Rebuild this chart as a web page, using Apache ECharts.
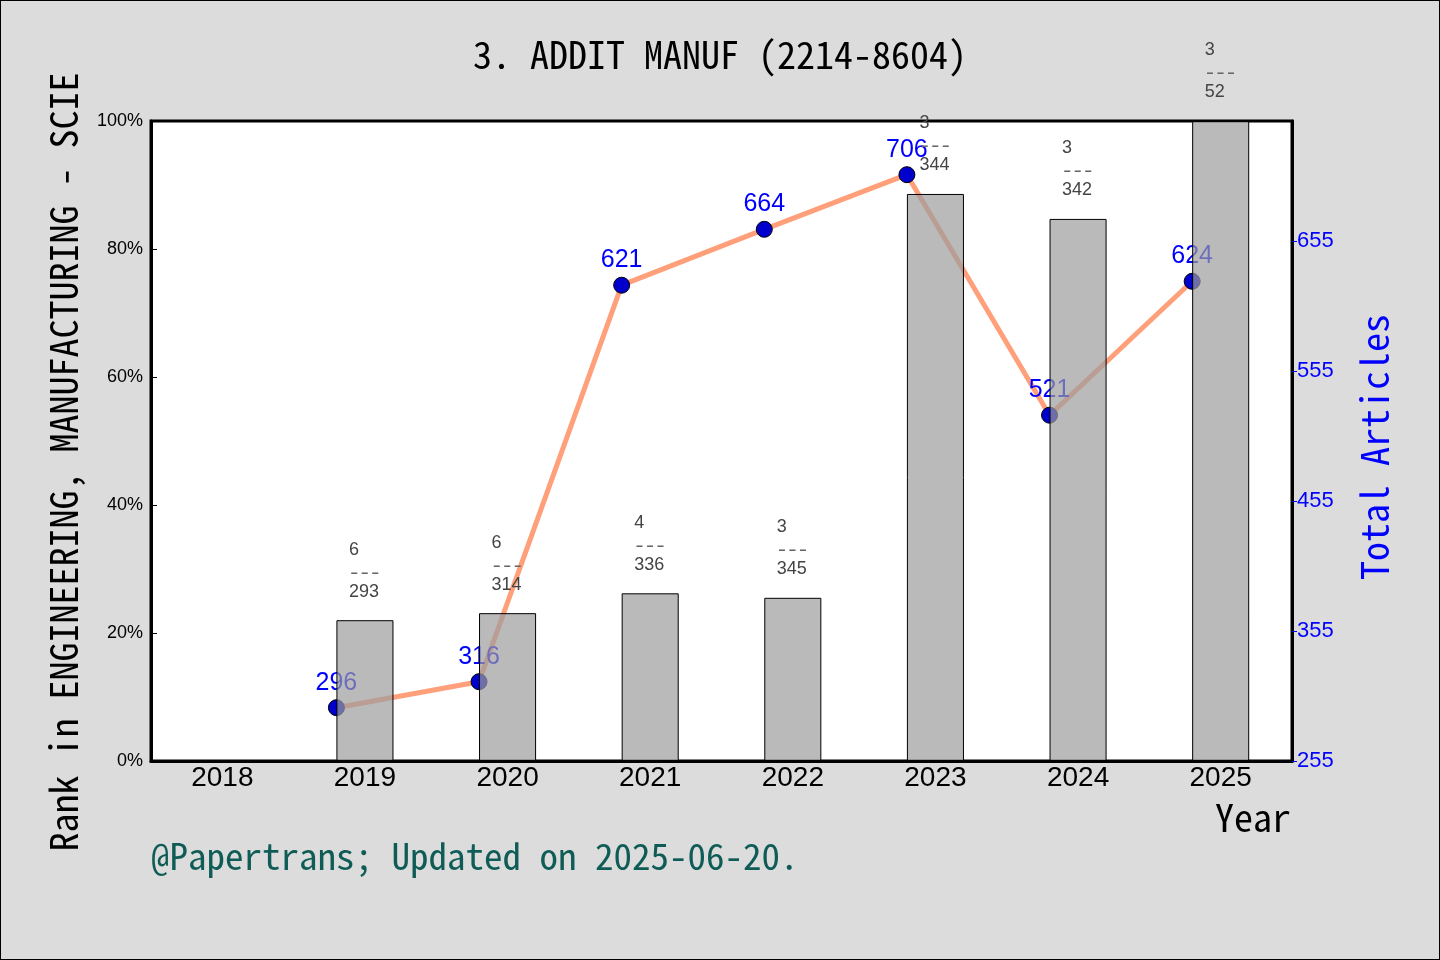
<!DOCTYPE html>
<html>
<head>
<meta charset="utf-8">
<title>ADDIT MANUF</title>
<script src="https://cdn.jsdelivr.net/npm/echarts@6/dist/echarts.min.js"></script>
<style>
html, body { margin: 0; padding: 0; background: #dcdcdc; }
#chart { width: 1440px; height: 960px; box-sizing: border-box; border: 1px solid #000; }
</style>
</head>
<body>
<div id="chart"></div>
<script>
// data
var years = ['2018', '2019', '2020', '2021', '2022', '2023', '2024', '2025'];
var rankPercent = ['-', 22.0, 23.1, 26.2, 25.5, 88.6, 84.7, 100];
var ranks = [null, 6, 6, 4, 3, 3, 3, 3];
var totals = [null, 293, 314, 336, 345, 344, 342, 52];
var articles = ['-', 296, 316, 621, 664, 706, 521, 624];
var rightTicks = [255, 355, 455, 555, 655];

var monoFont = "'Noto Sans Mono CJK SC', 'DejaVu Sans Mono', monospace";
var sansFont = "'Liberation Sans', Arial, sans-serif";

// right axis: 100 articles = 130px of a 640px plot
var rightMin = 255;
var rightMax = 255 + 640 / 1.3;

var chart = echarts.init(document.getElementById('chart'));

var option = {
    backgroundColor: '#dcdcdc',
    animation: false,
    title: {
        text: '3. ADDIT MANUF (2214-8604)',
        left: 'center',
        top: 30,
        textStyle: { fontFamily: monoFont, fontSize: 38, fontWeight: 'normal', color: '#000' }
    },
    grid: [
        { left: 150, top: 120, width: 1141, height: 640, show: true, backgroundColor: '#fff', borderColor: '#000', borderWidth: 3 },
        // line points sit 0.2 of a category left of the bar centres
        { left: 150 - 1141 / 8 * 0.2, top: 120, width: 1141, height: 640, show: false }
    ],
    xAxis: [
        {
            type: 'category', gridIndex: 0, data: years,
            axisLine: { lineStyle: { color: '#000', width: 3 } },
            axisTick: { inside: true, length: 7, lineStyle: { color: '#000', width: 1 } },
            axisLabel: { color: '#000', fontSize: 28, fontFamily: sansFont, margin: 3 }
        },
        { type: 'category', gridIndex: 1, data: years, show: false }
    ],
    yAxis: [
        {
            type: 'value', gridIndex: 0, min: 0, max: 100, interval: 20,
            axisLine: { show: true, lineStyle: { color: '#000', width: 3 } },
            axisTick: { show: true, inside: true, length: 6, lineStyle: { color: '#000' } },
            axisLabel: { formatter: '{value}%', color: '#000', fontSize: 18, fontFamily: sansFont, margin: 8 },
            splitLine: { show: false }
        },
        {
            type: 'value', gridIndex: 0, position: 'right', min: rightMin, max: rightMax, interval: 100,
            axisLine: { show: true, lineStyle: { color: '#000', width: 3 } },
            axisTick: { show: true, length: 5, lineStyle: { color: 'blue' } },
            axisLabel: {
                color: 'blue', fontSize: 22, fontFamily: sansFont, margin: 5, showMaxLabel: false,
                formatter: function (v) { return rightTicks.indexOf(v) >= 0 ? String(v) : ''; }
            },
            splitLine: { show: false }
        },
        { type: 'value', gridIndex: 1, min: rightMin, max: rightMax, show: false }
    ],
    graphic: [
        {
            type: 'text', x: 63, y: 461, rotation: Math.PI / 2,
            style: { text: 'Rank in ENGINEERING, MANUFACTURING - SCIE', font: '38px ' + monoFont, fill: '#000', align: 'center', verticalAlign: 'middle' }
        },
        {
            type: 'text', x: 1374, y: 446, rotation: Math.PI / 2,
            style: { text: 'Total Articles', font: '38px ' + monoFont, fill: 'blue', align: 'center', verticalAlign: 'middle' }
        },
        {
            type: 'text', x: 1290, y: 817,
            style: { text: 'Year', font: '38px ' + monoFont, fill: '#000', align: 'right', verticalAlign: 'middle' }
        },
        {
            type: 'text', x: 150, y: 855,
            style: { text: '@Papertrans; Updated on 2025-06-20.', font: '37px ' + monoFont, fill: '#0f5c57', align: 'left', verticalAlign: 'middle' }
        }
    ],
    series: [
        {
            name: 'Total Articles', type: 'line', xAxisIndex: 1, yAxisIndex: 2, z: 2,
            data: articles,
            lineStyle: { color: '#ffa07a', width: 5 },
            symbol: 'circle', symbolSize: 16,
            itemStyle: { color: '#0000cd', borderColor: '#000', borderWidth: 1 },
            label: { show: true, position: 'top', distance: 4, color: 'blue', fontSize: 25, fontFamily: sansFont }
        },
        {
            name: 'Rank', type: 'bar', xAxisIndex: 0, yAxisIndex: 0, z: 3,
            data: rankPercent, barWidth: '40%',
            itemStyle: { color: 'rgba(156,157,158,0.7)', borderColor: '#000', borderWidth: 1 },
            label: {
                show: true, position: 'top', distance: 18, align: 'left', offset: [-16, 0],
                color: '#444', fontSize: 18, lineHeight: 21, fontFamily: sansFont,
                formatter: function (p) {
                    return ranks[p.dataIndex] + '\n{d|---}\n' + totals[p.dataIndex];
                },
                rich: {
                    d: { fontFamily: monoFont, fontSize: 21, lineHeight: 21, color: '#666' }
                }
            }
        }
    ]
};

chart.setOption(option);
</script>
</body>
</html>
